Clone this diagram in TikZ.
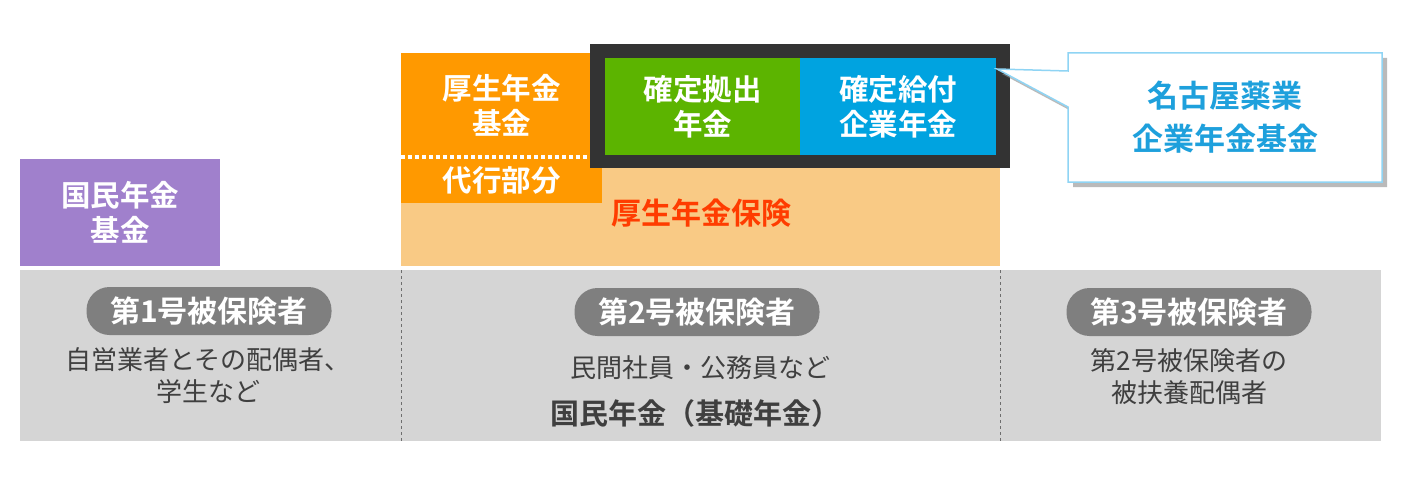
\documentclass[tikz,border=0pt]{standalone}
\usepackage{fontspec}
\setmainfont{Noto Sans CJK JP}[BoldFont={Noto Sans CJK JP Bold}]
\usetikzlibrary{positioning,shapes.callouts,shadows}

\definecolor{bandgray}{HTML}{D5D5D5}
\definecolor{sepgray}{HTML}{6E6E6E}
\definecolor{kokumin}{HTML}{A080CC}
\definecolor{hokenlight}{HTML}{F9CA85}
\definecolor{kikinorange}{HTML}{FF9900}
\definecolor{framegray}{HTML}{333333}
\definecolor{dcgreen}{HTML}{5CB400}
\definecolor{dbblue}{HTML}{00A3E0}
\definecolor{hokenred}{HTML}{FF3C00}
\definecolor{pillgray}{HTML}{7F7F7F}
\definecolor{desctext}{HTML}{3F3F3F}
\definecolor{calloutline}{HTML}{8FD4F4}
\definecolor{callouttext}{HTML}{1EA0DC}

\begin{document}
\begin{tikzpicture}[x=1pt,y=-1pt,
    every node/.style={inner sep=0pt,outer sep=0pt,align=center},
    area/.style={anchor=north west},
    block/.style={area,text=white,font=\fontsize{29.5}{35}\selectfont\bfseries},
    pill/.style={fill=pillgray,rounded corners=23pt,minimum width=245pt,minimum height=48pt,
                 text=white,font=\fontsize{30}{32}\selectfont\bfseries},
    desc/.style={text=desctext,font=\fontsize{26}{32}\selectfont},
    sep/.style={draw=sepgray,dashed,line width=0.8pt}]
   \useasboundingbox (0,0) rectangle (1410,500);

   % bottom band
   \node[area,fill=bandgray,minimum width=1361pt,minimum height=171pt] (band) at (20,270) {};

   % upper blocks
   \node[block,fill=kokumin,minimum width=200pt,minimum height=107pt] (kokuminkikin) at (20,159) {国民年金\\基金};
   \node[area,fill=hokenlight,minimum width=599pt,minimum height=213pt] (hoken) at (401,53) {};
   \node[block,fill=kikinorange,minimum width=201pt,minimum height=104pt] (kikin) at (401,53) {厚生年金\\基金};
   \node[block,fill=kikinorange,minimum width=201pt,minimum height=46pt] (daiko) at (401,157) {代行部分};
   \draw[white,line width=3.5pt,dash pattern=on 3.5pt off 3.5pt] (kikin.south west) -- (kikin.south east);
   \node[text=hokenred,font=\fontsize{30}{32}\selectfont\bfseries] (hokenlabel) at (701,213) {厚生年金保険};

   \node[area,fill=framegray,minimum width=420pt,minimum height=124pt] (frame) at (590,44) {};
   \node[block,fill=dcgreen,minimum width=195pt,minimum height=97pt] (dc) at (605,58) {確定拠出\\年金};
   \node[block,fill=dbblue,minimum width=196pt,minimum height=97pt,right=0pt of dc] (db) {確定給付\\企業年金};

   % callout
   \coordinate (tip) at (997,69);
   \node[rectangle callout,callout absolute pointer={(tip)},callout pointer width=36pt,
         fill=white,draw=calloutline,line width=1.5pt,minimum width=314pt,minimum height=129pt,
         drop shadow={shadow xshift=5pt,shadow yshift=-5pt,fill=black!45,opacity=0.6},
         text=callouttext,font=\fontsize{31}{43}\selectfont\bfseries] (meiyaku) at (1225,117.5) {名古屋薬業\\企業年金基金};

   % separators
   \draw[sep] (band.north -| hoken.west) -- (band.south -| hoken.west);
   \draw[sep] (band.north -| hoken.east) -- (band.south -| hoken.east);

   % insured groups
   \node[pill] (dai1) at (209,311) {第1号被保険者};
   \node[pill] (dai2) at (697,312) {第2号被保険者};
   \node[pill] (dai3) at (1189,312) {第3号被保険者};
   \node[desc] (desc1) at (208,376) {自営業者とその配偶者、\\学生など};
   \node[desc] (desc2) at (700,368) {民間社員・公務員など};
   \node[desc,font=\fontsize{29}{30}\selectfont\bfseries] (kiso) at (695,413) {国民年金（基礎年金）};
   \node[desc] (desc3) at (1189,377) {第2号被保険者の\\被扶養配偶者};
\end{tikzpicture}
\end{document}
